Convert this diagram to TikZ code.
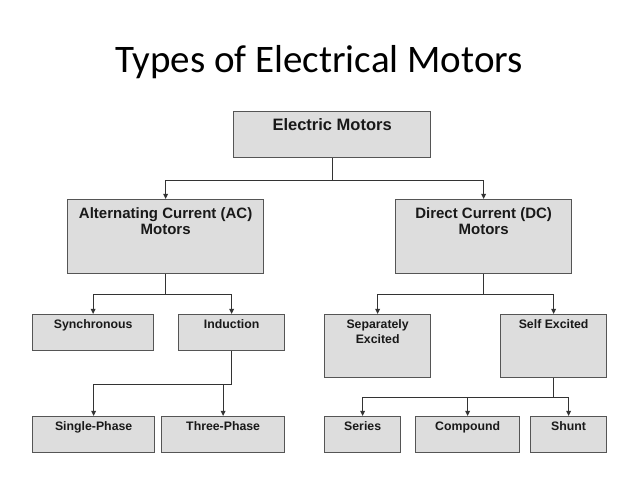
\documentclass[tikz,border=0pt]{standalone}
\usepackage{fontspec}
\setmainfont{Liberation Sans}
\newfontfamily\titlefont{Carlito}
\usetikzlibrary{arrows.meta,calc}
\definecolor{boxfill}{HTML}{DDDDDD}
\definecolor{boxline}{HTML}{555555}
\definecolor{conn}{HTML}{333333}
\tikzset{
  box/.style={draw=boxline,fill=boxfill,line width=1.3pt,inner sep=0pt,anchor=north west},
  arr/.style={draw=conn,line width=1.2pt,-{Triangle[length=5pt,width=4.5pt]}},
  tbig/.style={anchor=base,inner sep=0pt,font=\fontsize{16.5}{19}\selectfont\bfseries,text=black!90},
  tmid/.style={anchor=base,inner sep=0pt,font=\fontsize{15}{17}\selectfont\bfseries,text=black!90},
  tsmall/.style={anchor=base,inner sep=0pt,font=\fontsize{12.3}{15}\selectfont\bfseries,text=black!90},
}
\begin{document}
\begin{tikzpicture}[x=1pt,y=-1pt]
\useasboundingbox (0,0) rectangle (638,478);
\fill[white] (0,0) rectangle (638,478);
% title
\node[anchor=base,inner sep=0pt,font=\titlefont\fontsize{39}{44}\selectfont] (title) at (319,73) {Types of Electrical Motors};
% boxes
\node[box,minimum width=197pt,minimum height=46pt] (em) at (233,111) {};
\node[box,minimum width=196pt,minimum height=74pt] (ac) at (67,199) {};
\node[box,minimum width=176pt,minimum height=74pt] (dc) at (395,199) {};
\node[box,minimum width=121pt,minimum height=36pt] (syn) at (32,314) {};
\node[box,minimum width=106pt,minimum height=36pt] (ind) at (178,314) {};
\node[box,minimum width=106pt,minimum height=63pt] (sep) at (324,314) {};
\node[box,minimum width=106pt,minimum height=63pt] (self) at (500,314) {};
\node[box,minimum width=122pt,minimum height=36pt] (sp) at (32,416) {};
\node[box,minimum width=123pt,minimum height=36pt] (tp) at (161,416) {};
\node[box,minimum width=76pt,minimum height=36pt] (ser) at (324,416) {};
\node[box,minimum width=104pt,minimum height=36pt] (cmp) at (415,416) {};
\node[box,minimum width=76pt,minimum height=36pt] (sh) at (530,416) {};
% texts
\node[tbig] (temt) at ($(em.north)+(0,20)$) {Electric Motors};
\node[tmid] (tac1) at ($(ac.north)+(0,20)$) {Alternating Current (AC)};
\node[tmid] (tac2) at ($(ac.north)+(0,36)$) {Motors};
\node[tmid] (tdc1) at ($(dc.north)+(0,20)$) {Direct Current (DC)};
\node[tmid] (tdc2) at ($(dc.north)+(0,36)$) {Motors};
\node[tsmall] (tsyn) at ($(syn.north)+(0,15)$) {Synchronous};
\node[tsmall] (tind) at ($(ind.north)+(0,15)$) {Induction};
\node[tsmall] (tsep1) at ($(sep.north)+(0,15)$) {Separately};
\node[tsmall] (tsep2) at ($(sep.north)+(0,30)$) {Excited};
\node[tsmall] (tself) at ($(self.north)+(0,15)$) {Self Excited};
\node[tsmall] (tsp) at ($(sp.north)+(0,15)$) {Single-Phase};
\node[tsmall] (ttp) at ($(tp.north)+(0,15)$) {Three-Phase};
\node[tsmall] (tser) at ($(ser.north)+(0,15)$) {Series};
\node[tsmall] (tcmp) at ($(cmp.north)+(0,15)$) {Compound};
\node[tsmall] (tsh) at ($(sh.north)+(0,15)$) {Shunt};
% connectors
\draw[arr] (em.south) -- ++(0,22) -| (ac.north);
\draw[arr] (em.south) -- ++(0,22) -| (dc.north);
\draw[arr] (ac.south) -- ++(0,20) -| (syn.north);
\draw[arr] (ac.south) -- ++(0,20) -| (ind.north);
\draw[arr] (dc.south) -- ++(0,20) -| (sep.north);
\draw[arr] (dc.south) -- ++(0,20) -| (self.north);
\draw[arr] (ind.south) -- ++(0,33) -| (sp.north);
\draw[arr] (ind.south) -- ++(0,33) -| (tp.north);
\draw[arr] (self.south) -- ++(0,19) -| (ser.north);
\draw[arr] (self.south) -- ++(0,19) -| (cmp.north);
\draw[arr] (self.south) -- ++(0,19) -| (sh.north);
\end{tikzpicture}
\end{document}
